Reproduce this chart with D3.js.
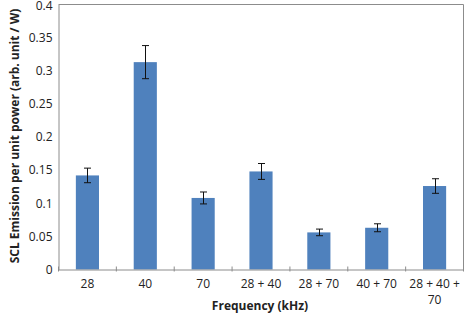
<!DOCTYPE html>
<html><head><meta charset="utf-8">
<script src="https://cdn.jsdelivr.net/npm/d3@7"></script>
<style>body{margin:0;background:#fff}svg{display:block}</style>
</head><body>
<svg id="c" width="474" height="322"></svg>
<script>
const categories = ["28", "40", "70", "28 + 40", "28 + 70", "40 + 70", "28 + 40 + 70"];
const values = [0.142, 0.313, 0.108, 0.148, 0.056, 0.063, 0.126];
const errors = [0.011, 0.025, 0.009, 0.012, 0.005, 0.006, 0.011];
const yTicks = [0, 0.05, 0.1, 0.15, 0.2, 0.25, 0.3, 0.35, 0.4];
const yTickLabels = ["0", "0.05", "0.1", "0.15", "0.2", "0.25", "0.3", "0.35", "0.4"];

const svg = d3.select("#c");
const m = {l: 58.5, r: 463.5, t: 4.5, b: 269.5};
const font = "'Open Sans', 'Liberation Sans', sans-serif";
const x = d3.scaleBand().domain(categories).range([m.l, m.r]).paddingInner(0.6).paddingOuter(0.3);
const xb = d3.scaleBand().domain(categories).range([m.l, m.r]);
const y = d3.scaleLinear().domain([0, 0.4]).range([m.b, m.t]);

// frame (top & right)
svg.append("path").attr("d", `M${m.l},${m.t}H${m.r}V${m.b}`).attr("fill","none").attr("stroke","#8c8c8c").attr("stroke-width",1);

// bars
svg.selectAll("rect.bar").data(categories).enter().append("rect")
  .attr("x", d => x(d)).attr("width", x.bandwidth())
  .attr("y", (d,i) => y(values[i])).attr("height", (d,i) => y(0) - y(values[i]))
  .attr("fill", "#4f81bd");

// error bars
const eg = svg.append("g").attr("stroke","#111").attr("stroke-width",1).attr("fill","none");
categories.forEach((c,i) => {
  const cx = Math.round(xb(c) + xb.bandwidth()/2) + 0.5;
  const top = y(values[i] + errors[i]), bot = y(values[i] - errors[i]);
  eg.append("path").attr("d", `M${cx},${top}V${bot}M${cx-3.5},${top}H${cx+3.5}M${cx-3.5},${bot}H${cx+3.5}`);
});

// y axis
const ya = d3.axisLeft(y).tickValues(yTicks).tickSize(0).tickPadding(6).tickFormat((d,i) => yTickLabels[i]);
const yg = svg.append("g").attr("transform", `translate(${m.l},0)`).call(ya);
yg.select(".domain").attr("stroke","#8c8c8c");
yg.selectAll("text").attr("font-family", font).attr("font-size", 12).attr("fill","#222");
yg.selectAll(".tick").filter(d => d === 0.4).select("text").attr("y", 1.5);

// x axis
const xa = d3.axisBottom(xb).tickSize(0).tickFormat(() => "");
const xg = svg.append("g").attr("transform", `translate(0,${m.b})`).call(xa);
xg.select(".domain").attr("stroke","#8c8c8c");
// tick marks between categories
const bounds = categories.map(c => xb(c)).concat([m.r]);
xg.selectAll("line.sep").data(bounds).enter().append("line")
  .attr("x1", d => d).attr("x2", d => d).attr("y1", -3).attr("y2", 2).attr("stroke","#8c8c8c");

// x labels (wrap)
categories.forEach(c => {
  const cx = xb(c) + xb.bandwidth()/2;
  const lines = c === "28 + 40 + 70" ? ["28 + 40 +", "70"] : [c];
  const t = svg.append("text").attr("x", cx).attr("y", 288).attr("text-anchor","middle")
    .attr("font-family", font).attr("font-size", 12).attr("fill","#222");
  lines.forEach((l,j) => t.append("tspan").attr("x", cx).attr("dy", j ? 16 : 0).text(l));
});

svg.append("text").attr("x", 260).attr("y", 310).attr("text-anchor","middle")
  .attr("font-family", font).attr("font-size", 12).attr("font-weight","bold").attr("fill","#222")
  .text("Frequency (kHz)");

svg.append("text").attr("transform", "translate(19,136) rotate(-90)").attr("text-anchor","middle")
  .attr("font-family", font).attr("font-size", 12).attr("font-weight","bold").attr("fill","#222")
  .text("SCL Emission per unit power (arb. unit / W)");
</script>
</body></html>
